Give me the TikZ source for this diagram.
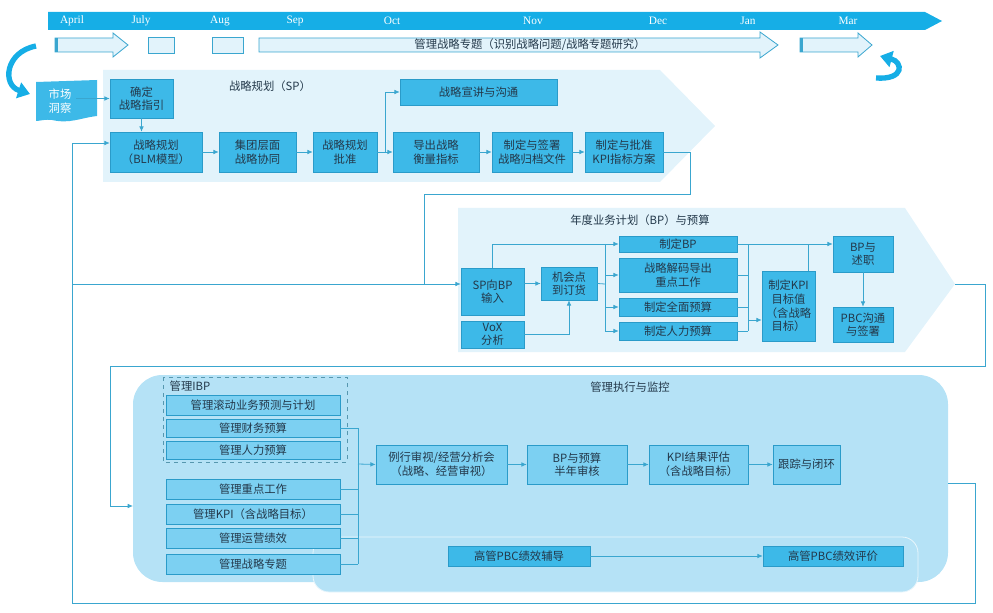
\documentclass[tikz,border=0pt]{standalone}
\usepackage{fontspec}
\setmainfont{Liberation Serif}
\newfontfamily\cjk{Noto Sans CJK SC}
\usetikzlibrary{arrows.meta}
\definecolor{bbox}{HTML}{3DB9E8}
\definecolor{bedge}{HTML}{2A9BC9}
\definecolor{lbox}{HTML}{7CD0F2}
\definecolor{sparea}{HTML}{E2F3FB}
\definecolor{mgarea}{HTML}{B5E2F6}
\definecolor{lnc}{HTML}{3AA6CF}
\definecolor{bar}{HTML}{16AEE6}
\definecolor{txt}{HTML}{23384A}
\tikzset{
 box/.style={draw=bedge,fill=bbox,inner sep=0pt,align=center,text=txt,font=\cjk\fontsize{8.5}{10.2}\selectfont},
 lbx/.style={box,fill=lbox},
 ln/.style={draw=lnc,line width=0.6pt},
 arr/.style={ln,-{Latex[length=4pt,width=3.5pt]}},
 hol/.style={draw=lnc,fill=sparea,line width=0.6pt},
 ttl/.style={font=\cjk\fontsize{8.5}{10}\selectfont,text=txt},
 mon/.style={text=white,font=\fontsize{8.5}{9}\selectfont}
}
\newcommand\bx[7][box]{\node[#1,minimum width={(#5-#3)*0.75pt},minimum height={(#6-#4)*0.75pt}] (#2) at ({(#3+#5)/2},{(#4+#6)/2}) {#7};}
\begin{document}
\begin{tikzpicture}[x=0.75pt,y=-0.75pt]
\useasboundingbox (0,0) rectangle (993,613);
% timeline
\fill[bar] (48,12) -- (925,12) -- (942,21) -- (925,30) -- (48,30) -- cycle;
\foreach \m/\x in {April/72,July/141,Aug/220,Sep/295,Oct/392,Nov/533,Dec/658,Jan/748,Mar/848}
  \node[mon] (m\m) at (\x,21) {\m};
% second row
\draw[hol] (55,38) -- (113,38) -- (113,33) -- (128,45) -- (113,57) -- (113,52) -- (55,52) -- cycle;
\fill[lnc] (55,38) rectangle (58,52);
\draw[hol] (148,37) rectangle (174,53);
\draw[hol] (212,37) rectangle (243,53);
\draw[hol] (259,38) -- (760,38) -- (760,32) -- (778,45) -- (760,58) -- (760,52) -- (259,52) -- cycle;
\node[ttl] (topic) at (530,45) {管理战略专题（识别战略问题/战略专题研究）};
\draw[hol] (800,38) -- (858,38) -- (858,33) -- (872,45) -- (858,57) -- (858,52) -- (800,52) -- cycle;
\fill[lnc] (800,38) rectangle (803,52);
% curved arrows
\draw[bar,line width=4pt,-{Triangle[length=9pt,width=12pt]}] (36,46) .. controls (5,52) and (2,85) .. (30,94);
\draw[bar,line width=4pt,-{Triangle[length=9pt,width=12pt]}] (876,78) .. controls (905,80) and (903,62) .. (880,56);
% market insight
\fill[bbox] (36,82) -- (97,80) -- (97,116) .. controls (80,118) and (70,124) .. (52,120) .. controls (45,119) and (40,121) .. (36,121) -- cycle;
\node[font=\cjk\fontsize{8.5}{10.2}\selectfont,text=white,align=center] (mkt) at (60,101) {市场\\洞察};
% SP area
\fill[sparea] (103,70) -- (660,70) -- (715,126) -- (660,182) -- (103,182) -- cycle;
\node[ttl] (spt) at (270,86) {战略规划（SP）};
\bx{s1}{110}{79}{173}{118}{确定\\战略指引}
\bx{s2}{110}{132}{202}{172}{战略规划\\（BLM模型）}
\bx{s3}{219}{132}{296}{172}{集团层面\\战略协同}
\bx{s4}{313}{132}{377}{172}{战略规划\\批准}
\bx{s5}{400}{79}{557}{105}{战略宣讲与沟通}
\bx{s6}{393}{132}{479}{172}{导出战略\\衡量指标}
\bx{s7}{492}{132}{572}{172}{制定与签署\\战略归档文件}
\bx{s8}{585}{132}{663}{172}{制定与批准\\KPI指标方案}
\draw[arr] (mkt.east|-s1) -- (s1);
\draw[arr] (s1.south) -- (s1.south|-s2.north);
\draw[arr] (s2) -- (s3);
\draw[arr] (s3) -- (s4);
\draw[arr] (s4) -- (s6);
\draw[arr] (385,152) |- (s5.west);
\draw[arr] (s6) -- (s7);
\draw[arr] (s7) -- (s8);
% BP area
\fill[sparea] (458,208) -- (905,208) -- (955,284) -- (905,352) -- (458,352) -- cycle;
\node[ttl] (bpt) at (640,220) {年度业务计划（BP）与预算};
\bx{b1}{461}{268}{524}{315}{SP向BP\\输入}
\bx{b2}{461}{321}{524}{348}{VoX\\分析}
\bx{b3}{541}{267}{597}{300}{机会点\\到订货}
\bx{b4}{619}{236}{737}{252}{制定BP}
\bx{b5}{619}{258}{737}{292}{战略解码导出\\重点工作}
\bx{b6}{619}{298}{737}{316}{制定全面预算}
\bx{b7}{619}{322}{737}{340}{制定人力预算}
\bx{b8}{762}{271}{815}{341}{制定KPI\\目标值\\（含战略\\目标）}
\bx{b9}{833}{236}{893}{272}{BP与\\述职}
\bx{b10}{833}{307}{893}{342}{PBC沟通\\与签署}
\draw[arr] (b1.east|-b3) -- (b3);
\draw[arr] (b2.east) -| (b3.south);
\draw[arr] (b1.north) |- (b4.west);
\draw[ln] (b3.east) -- (605,284);
\draw[ln] (605,244) -- (605,331);
\foreach \b in {b5,b6,b7} \draw[arr] (605,0|-\b) -- (\b.west);
\foreach \b in {b5,b6,b7} \draw[ln] (\b.east) -- (748,0|-\b);
\draw[ln] (b4.east) -- (748,244) -- (748,331);
\draw[arr] (748,320) -- (b8.west|-0,320);
\draw[arr] (b4.east) -- (b9.west|-0,244);
\draw[ln] (b8.north-|808,0) -- (808,244);
\draw[arr] (b9) -- (b10);
% management area
\fill[mgarea] (133,375) [rounded corners=22pt] -- (948,375) -- (948,582) -- (133,582) -- cycle;
\fill[mgarea,draw=white!70!mgarea,line width=0.6pt] (313,537) [rounded corners=12pt] -- (918,537) -- (918,592) -- (313,592) -- cycle;
\node[ttl] (mgt) at (630,387) {管理执行与监控};
\draw[dashed,draw=lnc!60!gray] (163,377) rectangle (347,462);
\node[ttl,anchor=west] (ibp) at (165,386) {管理IBP};
\bx[lbx]{m1}{166}{395}{340}{415}{管理滚动业务预测与计划}
\bx[lbx]{m2}{166}{419}{340}{437}{管理财务预算}
\bx[lbx]{m3}{166}{441}{340}{459}{管理人力预算}
\bx[lbx]{m4}{166}{479}{340}{499}{管理重点工作}
\bx[lbx]{m5}{166}{504}{340}{524}{管理KPI（含战略目标）}
\bx[lbx]{m6}{166}{528}{340}{548}{管理运营绩效}
\bx[lbx]{m7}{166}{554}{340}{574}{管理战略专题}
\bx[lbx]{r1}{376}{445}{507}{484}{例行审视/经营分析会\\（战略、经营审视）}
\bx[lbx]{r2}{527}{445}{627}{484}{BP与预算\\半年审核}
\bx[lbx]{r3}{649}{445}{748}{484}{KPI结果评估\\（含战略目标）}
\bx[lbx]{r4}{773}{445}{840}{484}{跟踪与闭环}
\bx{p1}{448}{546}{590}{566}{高管PBC绩效辅导}
\bx{p2}{763}{546}{903}{566}{高管PBC绩效评价}
\foreach \b in {m2,m4,m5,m6,m7} \draw[ln] (\b.east) -- (358,0|-\b);
\draw[ln] (358,428) -- (358,564);
\draw[arr] (358,464) -- (r1.west);
\draw[arr] (r1) -- (r2);
\draw[arr] (r2) -- (r3);
\draw[arr] (r3) -- (r4);
\draw[arr] (p1) -- (p2);
% loops
\draw[ln] (s8.east) -- (690,152) -- (690,194) -- (424,194) -- (424,284);
\draw[arr] (72,284) -- (b1.west|-0,284);
\draw[ln] (955,284) -- (985,284) -- (985,366) -- (110,366) -- (110,506);
\draw[arr] (110,506) -- (133,506);
\draw[ln] (948,483) -- (975,483) -- (975,603) -- (72,603) -- (72,143);
\draw[arr] (72,143) -- (s2.west|-0,143);
\end{tikzpicture}
\end{document}
